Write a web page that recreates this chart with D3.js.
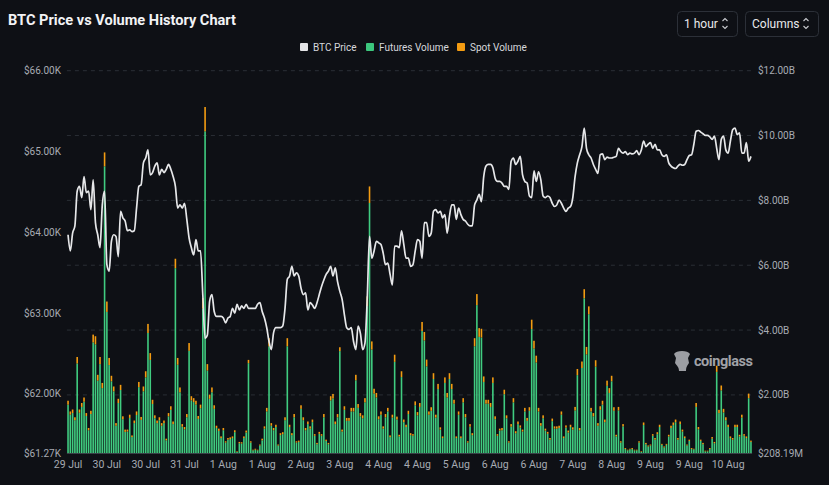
<!DOCTYPE html>
<html lang="en">
<head>
<meta charset="UTF-8">
<title>BTC Price vs Volume History Chart</title>
<script src="https://d3js.org/d3.v7.min.js"></script>
<style>
  body { margin: 0; background: #0e1015; }
  svg { display: block; font-family: Roboto, "Noto Sans", sans-serif; }
  .tick-label { fill: #a7abb3; font-size: 10px; }
  .legend-label { fill: #d6d8dc; font-size: 10px; }
</style>
</head>
<body>
<svg width="829" height="485"></svg>
<script>
// hourly BTC price (USD)
const price = [
  63970,63770,63990,64080,64510,64570,64430,64690,64490,64510,
  64280,64650,64120,63970,63810,64340,64510,63600,63520,63890,
  63970,63950,63700,64260,64180,64140,64020,64030,64010,64020,
  64300,64570,64590,64860,64920,65020,64710,64740,64820,64860,
  64710,64780,64740,64780,64840,64780,64690,64570,64300,64340,
  64300,64360,64160,63930,63810,63720,63910,63770,63770,63230,
  62690,62730,63150,63230,63020,62960,62960,62960,62940,62880,
  62940,62960,63060,63000,63110,63040,63090,63060,63110,63060,
  63060,63060,63060,63110,63130,63020,62940,62820,62650,62550,
  62760,62820,62820,62820,62840,63060,63420,63460,63580,63460,
  63500,63460,63310,63230,63250,63040,63130,63100,63060,63130,
  63230,63330,63410,63480,63520,63580,63460,63560,63390,63270,
  63170,62980,62820,62800,62820,62650,62550,62840,62750,62550,
  62630,63190,63950,63680,63770,63890,63870,63850,63740,63600,
  63620,63480,63350,63830,63830,63810,64020,63850,63680,63680,
  63580,63600,63770,63910,63890,63680,64120,64120,63950,63990,
  64260,64280,64240,64260,64180,64220,63990,64200,64340,64340,
  64160,64300,64220,64160,64140,64100,64080,64080,64340,64400,
  64470,64380,64690,64820,64840,64840,64800,64670,64630,64630,
  64610,64570,64570,64530,64880,64920,64840,64880,64940,64710,
  64630,64610,64450,64430,64760,64630,64750,64650,64450,64430,
  64450,64430,64360,64320,64340,64400,64360,64300,64260,64300,
  64320,64430,64690,64860,64960,65060,65290,65040,64960,64920,
  64840,64780,64730,64960,64970,64900,64930,64920,64920,64930,
  64940,65040,65000,64980,65000,64960,64980,64970,64980,65010,
  64960,65020,65130,65060,65090,65110,65040,65090,65020,65020,
  64960,64940,64960,64860,64820,64800,64790,64820,64840,64830,
  64840,64900,64950,64960,65090,65250,65260,65240,65220,65200,
  65200,65180,65150,65190,65040,64900,65150,65190,65020,64980,
  65130,65270,65290,65210,65230,64980,64980,65110,64880,64940
];

// futures volume per hour, billions USD
const futuresVol = [
  1.70,1.39,1.44,1.22,2.97,1.45,1.63,1.79,1.35,0.91,
  1.41,3.62,3.56,2.44,2.95,2.21,9.05,4.56,2.92,2.42,
  2.11,1.05,1.75,2.15,1.25,0.86,0.87,1.29,0.70,1.13,
  1.38,2.24,1.23,2.11,2.54,3.91,3.08,1.72,1.28,1.13,
  1.22,1.05,1.13,0.60,1.34,1.54,1.10,5.91,2.93,2.08,
  1.02,0.94,1.31,3.36,1.83,1.78,1.70,1.26,1.59,4.66,
  10.13,2.75,1.88,2.08,1.57,0.98,0.89,0.67,0.91,0.53,
  0.62,0.64,0.67,0.85,0.24,0.51,0.50,0.67,0.84,2.98,
  0.53,0.29,0.31,0.29,0.44,0.60,0.96,1.49,3.50,1.05,
  0.91,1.01,0.44,0.76,0.79,1.22,3.50,1.01,0.76,1.31,
  0.53,0.55,1.57,1.22,0.91,1.10,0.96,1.16,0.74,0.48,
  0.80,0.74,1.31,0.58,0.48,1.83,1.89,1.10,1.31,3.35,
  0.87,1.54,1.20,1.20,1.49,1.49,2.45,1.60,1.34,1.28,
  1.77,4.74,7.92,3.40,2.04,1.92,1.25,1.39,0.96,1.31,
  1.49,0.70,1.30,3.02,1.24,0.72,2.55,1.16,1.01,1.41,
  0.76,0.74,1.68,1.37,1.63,3.97,3.68,2.88,1.39,1.51,
  2.49,1.30,2.18,0.93,0.67,2.37,1.92,2.49,2.18,1.73,
  0.67,1.39,0.67,1.77,1.31,0.53,1.02,0.76,3.50,4.77,
  3.79,3.77,2.40,1.73,1.73,1.63,2.37,1.25,0.74,0.90,
  0.91,2.02,1.28,0.53,1.02,1.77,0.82,1.10,0.99,0.87,
  1.49,1.20,1.51,4.03,3.43,3.00,1.49,1.05,1.28,0.90,
  0.80,0.62,1.19,0.96,0.96,0.98,1.39,0.67,0.99,0.84,
  1.01,0.93,1.52,2.61,0.91,2.83,4.98,3.25,4.49,1.49,
  1.34,2.87,1.05,1.54,1.70,1.16,2.28,2.06,2.42,1.51,
  0.72,1.52,0.53,1.03,0.33,0.29,0.32,0.33,0.29,0.29,
  0.53,0.24,1.07,0.48,0.41,0.44,0.74,0.62,0.79,1.01,
  0.46,0.38,0.46,0.72,0.98,1.07,1.16,0.62,1.10,0.87,
  0.67,0.44,0.58,0.33,0.32,1.63,0.94,0.58,0.48,0.26,
  0.26,0.33,0.65,0.51,2.71,1.44,2.14,1.46,1.22,1.01,
  0.67,0.62,1.01,1.01,0.72,1.30,0.74,0.67,1.90,0.55
];

// spot volume per hour, billions USD
const spotVol = [
  0.12,0.10,0.11,0.09,0.20,0.10,0.12,0.13,0.09,0.07,
  0.10,0.24,0.25,0.18,0.22,0.16,0.43,0.32,0.22,0.17,
  0.15,0.08,0.13,0.16,0.09,0.07,0.06,0.10,0.05,0.08,
  0.11,0.16,0.09,0.15,0.19,0.28,0.21,0.13,0.09,0.08,
  0.09,0.08,0.08,0.05,0.10,0.11,0.08,0.29,0.21,0.15,
  0.08,0.07,0.10,0.24,0.13,0.12,0.12,0.09,0.11,0.33,
  0.75,0.20,0.13,0.15,0.11,0.07,0.07,0.05,0.07,0.04,
  0.05,0.05,0.05,0.06,0.02,0.04,0.04,0.05,0.06,0.10,
  0.04,0.02,0.03,0.02,0.03,0.05,0.07,0.11,0.25,0.08,
  0.07,0.07,0.03,0.06,0.06,0.09,0.25,0.07,0.06,0.10,
  0.04,0.04,0.11,0.09,0.07,0.08,0.07,0.08,0.05,0.04,
  0.06,0.05,0.10,0.04,0.04,0.13,0.14,0.08,0.10,0.12,
  0.06,0.11,0.09,0.09,0.11,0.11,0.17,0.12,0.10,0.09,
  0.13,0.30,0.51,0.25,0.15,0.14,0.09,0.10,0.07,0.10,
  0.11,0.05,0.09,0.22,0.09,0.05,0.18,0.08,0.07,0.10,
  0.06,0.05,0.12,0.10,0.12,0.28,0.26,0.21,0.10,0.11,
  0.18,0.09,0.16,0.07,0.05,0.17,0.14,0.18,0.16,0.12,
  0.05,0.10,0.05,0.13,0.10,0.04,0.08,0.06,0.25,0.34,
  0.27,0.27,0.17,0.12,0.12,0.12,0.17,0.09,0.05,0.06,
  0.07,0.14,0.09,0.04,0.08,0.13,0.06,0.08,0.07,0.06,
  0.11,0.09,0.11,0.29,0.24,0.21,0.11,0.08,0.09,0.06,
  0.06,0.05,0.08,0.07,0.07,0.07,0.10,0.05,0.07,0.06,
  0.07,0.07,0.11,0.19,0.07,0.20,0.28,0.23,0.24,0.11,
  0.10,0.20,0.08,0.11,0.12,0.08,0.16,0.15,0.17,0.11,
  0.05,0.11,0.04,0.07,0.03,0.02,0.02,0.03,0.02,0.02,
  0.04,0.02,0.08,0.04,0.03,0.03,0.05,0.05,0.06,0.07,
  0.03,0.03,0.03,0.05,0.07,0.08,0.08,0.05,0.08,0.06,
  0.05,0.03,0.04,0.03,0.02,0.12,0.07,0.04,0.04,0.02,
  0.02,0.03,0.05,0.04,0.19,0.10,0.15,0.11,0.09,0.07,
  0.05,0.05,0.07,0.07,0.05,0.09,0.05,0.05,0.14,0.04
];

const startTime = new Date(2024, 6, 29, 9);   // first hourly bar
const labelEvery = 17;                         // one date label every 17 bars
const priceTicks = [61270, 62000, 63000, 64000, 65000, 66000];
const volTicks = [0.20819, 2, 4, 6, 8, 10, 12];

const svg = d3.select("svg");
const width = +svg.attr("width");
const height = +svg.attr("height");

const hours = futuresVol.map((d, i) => d3.timeHour.offset(startTime, i));

const plotLeft = 66.9, plotRight = 752.1, plotTop = 70.7, plotBottom = 453;

const x = d3.scaleBand()
  .domain(d3.range(hours.length))
  .range([plotLeft, plotRight])
  .paddingInner(0.3)
  .paddingOuter(0.15);

const yPrice = d3.scaleLinear().domain([61270, 66000]).range([plotBottom, plotTop]);
const yVol = d3.scaleLinear().domain([0.20819, 12]).range([plotBottom, plotTop]);

// background
svg.append("rect").attr("width", width).attr("height", height).attr("fill", "#0e1015");

// title
svg.append("text")
  .attr("x", 8).attr("y", 25)
  .attr("fill", "#f2f3f5")
  .attr("font-size", 15.5)
  .attr("font-weight", "bold")
  .attr("textLength", 228)
  .attr("lengthAdjust", "spacingAndGlyphs")
  .text("BTC Price vs Volume History Chart");

// selector buttons
const buttons = [
  { label: "1 hour", x: 677, w: 60 },
  { label: "Columns", x: 745, w: 73 }
];
buttons.forEach(function(b) {
  svg.append("rect")
    .attr("x", b.x + 0.5).attr("y", 11.5)
    .attr("width", b.w).attr("height", 25)
    .attr("rx", 4).attr("ry", 4)
    .attr("fill", "#0e1015")
    .attr("stroke", "#2c3038");
  svg.append("text")
    .attr("x", b.x + 7).attr("y", 28)
    .attr("fill", "#e8e9ec")
    .attr("font-size", 12)
    .text(b.label);
  const cx = b.x + b.w - 12;
  svg.append("path")
    .attr("d", `M${cx - 2.5},${21} L${cx},${18.5} L${cx + 2.5},${21} M${cx - 2.5},${26} L${cx},${28.5} L${cx + 2.5},${26}`)
    .attr("fill", "none")
    .attr("stroke", "#c9cbd0")
    .attr("stroke-width", 1.1);
});

// legend
const legendData = [
  { label: "BTC Price", color: "#e4e5e7", x: 300 },
  { label: "Futures Volume", color: "#3cc77d", x: 366 },
  { label: "Spot Volume", color: "#f39c12", x: 457 }
];
legendData.forEach(function(d) {
  svg.append("rect")
    .attr("x", d.x).attr("y", 43)
    .attr("width", 8).attr("height", 8)
    .attr("rx", 1)
    .attr("fill", d.color);
  svg.append("text")
    .attr("class", "legend-label")
    .attr("x", d.x + 13).attr("y", 51)
    .text(d.label);
});

// gridlines follow the volume axis
svg.selectAll(".grid")
  .data(volTicks.slice(1))
  .enter()
  .append("line")
  .attr("x1", plotLeft).attr("x2", plotRight)
  .attr("y1", d => yVol(d)).attr("y2", d => yVol(d))
  .attr("stroke", "#2a2e35")
  .attr("stroke-width", 1)
  .attr("stroke-dasharray", "4,4");

// left axis (price)
svg.selectAll(".price-label")
  .data(priceTicks)
  .enter()
  .append("text")
  .attr("class", "tick-label")
  .attr("x", 61)
  .attr("y", d => yPrice(d) + 3.5)
  .attr("text-anchor", "end")
  .text(d => "$" + (d / 1000).toFixed(2) + "K");

// right axis (volume)
svg.selectAll(".vol-label")
  .data(volTicks)
  .enter()
  .append("text")
  .attr("class", "tick-label")
  .attr("x", 758)
  .attr("y", d => yVol(d) + 3.5)
  .text(d => d < 1 ? "$" + (d * 1000).toFixed(2) + "M" : "$" + d.toFixed(2) + "B");

// stacked volume bars
const bars = svg.append("g");
bars.selectAll(".fut")
  .data(futuresVol)
  .enter()
  .append("rect")
  .attr("x", (d, i) => x(i))
  .attr("width", x.bandwidth())
  .attr("y", d => yVol(d))
  .attr("height", d => plotBottom - yVol(d))
  .attr("fill", "#40cc80");

bars.selectAll(".spot")
  .data(spotVol)
  .enter()
  .append("rect")
  .attr("x", (d, i) => x(i))
  .attr("width", x.bandwidth())
  .attr("y", (d, i) => yVol(futuresVol[i] + d))
  .attr("height", (d, i) => yVol(futuresVol[i]) - yVol(futuresVol[i] + d))
  .attr("fill", "#f39c12");

// bottom axis line
svg.append("line")
  .attr("x1", plotLeft).attr("x2", plotRight)
  .attr("y1", plotBottom + 0.5).attr("y2", plotBottom + 0.5)
  .attr("stroke", "#3a3f47");

// x labels
const fmt = d3.timeFormat("%-d %b");
svg.selectAll(".x-label")
  .data(hours.filter((h, i) => i % labelEvery === 0))
  .enter()
  .append("text")
  .attr("class", "tick-label")
  .attr("x", (d, k) => x(k * labelEvery) + x.bandwidth() / 2)
  .attr("y", 468)
  .attr("text-anchor", "middle")
  .attr("fill", "#c3c6cc")
  .style("font-size", "10.5px")
  .text(d => fmt(d));

// watermark
const wm = svg.append("g").attr("transform", "translate(673,350)");
wm.append("path")
  .attr("d", "M1,4 C3,0 15,0 17,4 L15,8 L16,13 C14,16 13,17 13,21 L6,21 C6,17 4,16 2,13 L3,8 Z")
  .attr("fill", "#9c9ea3");
wm.append("text")
  .attr("x", 21).attr("y", 15.5)
  .attr("fill", "#a0a2a7")
  .attr("font-size", 14.5)
  .attr("font-weight", "bold")
  .attr("textLength", 59)
  .text("coinglass");

// price line
const line = d3.line()
  .x((d, i) => x(i) + x.bandwidth() / 2)
  .y(d => yPrice(d))
  .curve(d3.curveMonotoneX);

svg.append("path")
  .datum(price)
  .attr("d", line)
  .attr("fill", "none")
  .attr("stroke", "#e6e7e9")
  .attr("stroke-width", 1.7)
  .attr("stroke-linejoin", "round");
</script>
</body>
</html>
